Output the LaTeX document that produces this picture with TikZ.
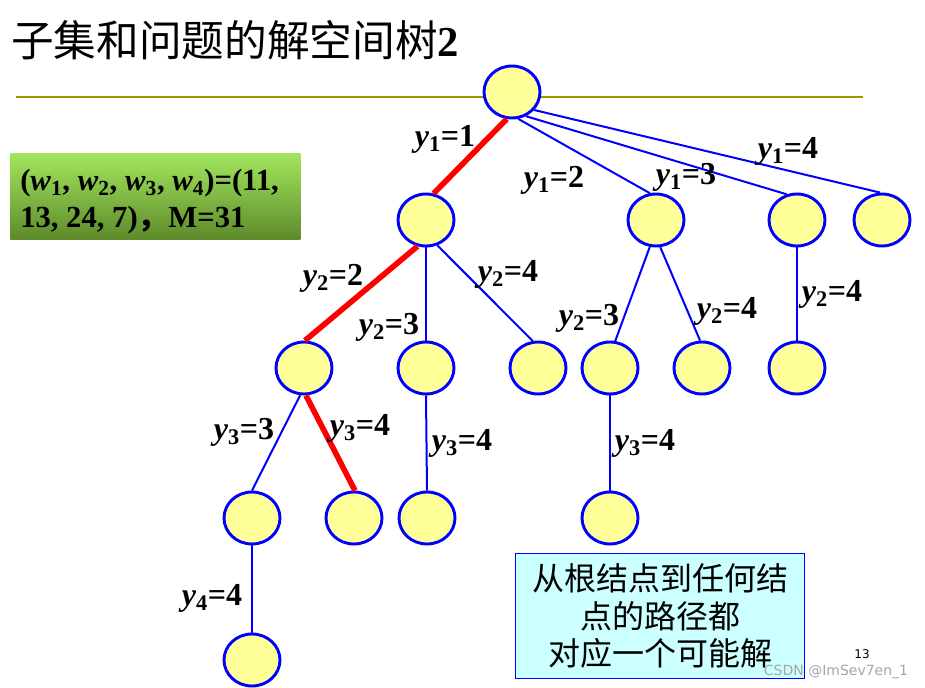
\documentclass[tikz,border=0pt]{standalone}
\usepackage{fontspec}
\setmainfont{Liberation Serif}
\newfontfamily\cjk{Noto Sans CJK SC}
\newfontfamily\sansf{DejaVu Sans}
\usetikzlibrary{shapes.geometric}
\definecolor{nodeyellow}{HTML}{FFFF99}
\definecolor{rulecol}{HTML}{999900}
\definecolor{greentop}{HTML}{A2E65E}
\definecolor{greenbot}{HTML}{5E8A2A}
\definecolor{boxcyan}{HTML}{CCFFFF}
\newcommand{\ylab}[2]{\textit{y}\textsubscript{#1}=#2}
\begin{document}
\begin{tikzpicture}[x=0.75pt,y=-0.75pt,
  tn/.style={ellipse, draw=blue, line width=2.2pt, fill=nodeyellow, minimum width=42pt, minimum height=39pt, inner sep=0pt},
  be/.style={draw=blue, line width=1.5pt},
  re/.style={draw=red, line width=4.2pt},
  lab/.style={font=\fontsize{24}{26}\selectfont\bfseries, inner sep=0pt}]
\useasboundingbox (0,0) rectangle (925,688);
\fill[white] (0,0) rectangle (925,688);

% title
\node[anchor=west, inner sep=0pt, font=\fontsize{32}{35}\selectfont] (title) at (11,40) {{\cjk 子集和问题的解空间树}\textbf{2}};
\draw[rulecol, line width=1.6pt] (16,97) coordinate (ruleL) -- (863,97) coordinate (ruleR);

% green box
\node[anchor=north west, minimum width=217.5pt, minimum height=65pt, top color=greentop, bottom color=greenbot, inner sep=0pt] (wbox) at (10,153) {};
\node[anchor=north west, inner sep=0pt, align=left, font=\fontsize{23}{27.5}\selectfont\bfseries] (wtext) at (20,169)
  {(\textit{w}\textsubscript{1}, \textit{w}\textsubscript{2}, \textit{w}\textsubscript{3}, \textit{w}\textsubscript{4})=(11,\\13, 24, 7){\cjk ，}M=31};

% tree nodes
\node[tn] (r) at (512,92) {};
\node[tn] (a) at (426,220) {};
\node[tn] (b) at (656,220) {};
\node[tn] (c) at (797,220) {};
\node[tn] (d) at (882,220) {};
\node[tn] (a1) at (304,368) {};
\node[tn] (a2) at (426,368) {};
\node[tn] (a3) at (538,368) {};
\node[tn] (b1) at (610,368) {};
\node[tn] (b2) at (702,368) {};
\node[tn] (c1) at (797,368) {};
\node[tn] (a11) at (252,518) {};
\node[tn] (a12) at (354,518) {};
\node[tn] (a21) at (427,518) {};
\node[tn] (b11) at (610,518) {};
\node[tn] (a111) at (252,660) {};

% edges
\draw[re] (r.259) -- (a.74);
\draw[be] (r.283) -- (b.103);
\draw[be] (r.300) -- (c.112);
\draw[be] (r.321) -- (d.94);
\draw[re] (a.252) -- (a1.88);
\draw[be] (a.south) -- (a2.north);
\draw[be] (a.294) -- (a3.101);
\draw[be] (b.257) -- (b1.79);
\draw[be] (b.279) -- (b2.94);
\draw[be] (c.south) -- (c1.north);
\draw[be] (a1.262) -- (a11.north);
\draw[re] (a1.274) -- (a12.88);
\draw[be] (a2.south) -- (a21.north);
\draw[be] (b1.south) -- (b11.north);
\draw[be] (a11.south) -- (a111.north);

% labels
\node[lab] (l1) at (445,139) {\ylab{1}{1}};
\node[lab] (l2) at (554,180) {\ylab{1}{2}};
\node[lab] (l3) at (686,177) {\ylab{1}{3}};
\node[lab] (l4) at (788,151) {\ylab{1}{4}};
\node[lab] (l5) at (333,278) {\ylab{2}{2}};
\node[lab] (l6) at (389,327) {\ylab{2}{3}};
\node[lab] (l7) at (508,274) {\ylab{2}{4}};
\node[lab] (l8) at (589,318) {\ylab{2}{3}};
\node[lab] (l9) at (727,311) {\ylab{2}{4}};
\node[lab] (l10) at (832,294) {\ylab{2}{4}};
\node[lab] (l11) at (244,432) {\ylab{3}{3}};
\node[lab] (l12) at (360,428) {\ylab{3}{4}};
\node[lab] (l13) at (462,443) {\ylab{3}{4}};
\node[lab] (l14) at (645,443) {\ylab{3}{4}};
\node[lab] (l15) at (212,598) {\ylab{4}{4}};

% note box
\node[draw=blue, line width=1.2pt, fill=boxcyan, minimum width=217pt, minimum height=94pt, inner sep=0pt] (note) at (660,616) {};
\node[align=center, inner sep=0pt, font=\cjk\fontsize{24}{28}\selectfont] (notetext) at (660,616)
  {从根结点到任何结\\点的路径都\\对应一个可能解};

% page number and watermark
\node[inner sep=0pt, font=\sansf\fontsize{9}{10}\selectfont] (pg) at (862,654) {13};
\node[inner sep=0pt, text=black!35, font=\sansf\fontsize{10.5}{12}\selectfont] (wm) at (836,672) {CSDN @ImSev7en\_1};
\end{tikzpicture}
\end{document}
